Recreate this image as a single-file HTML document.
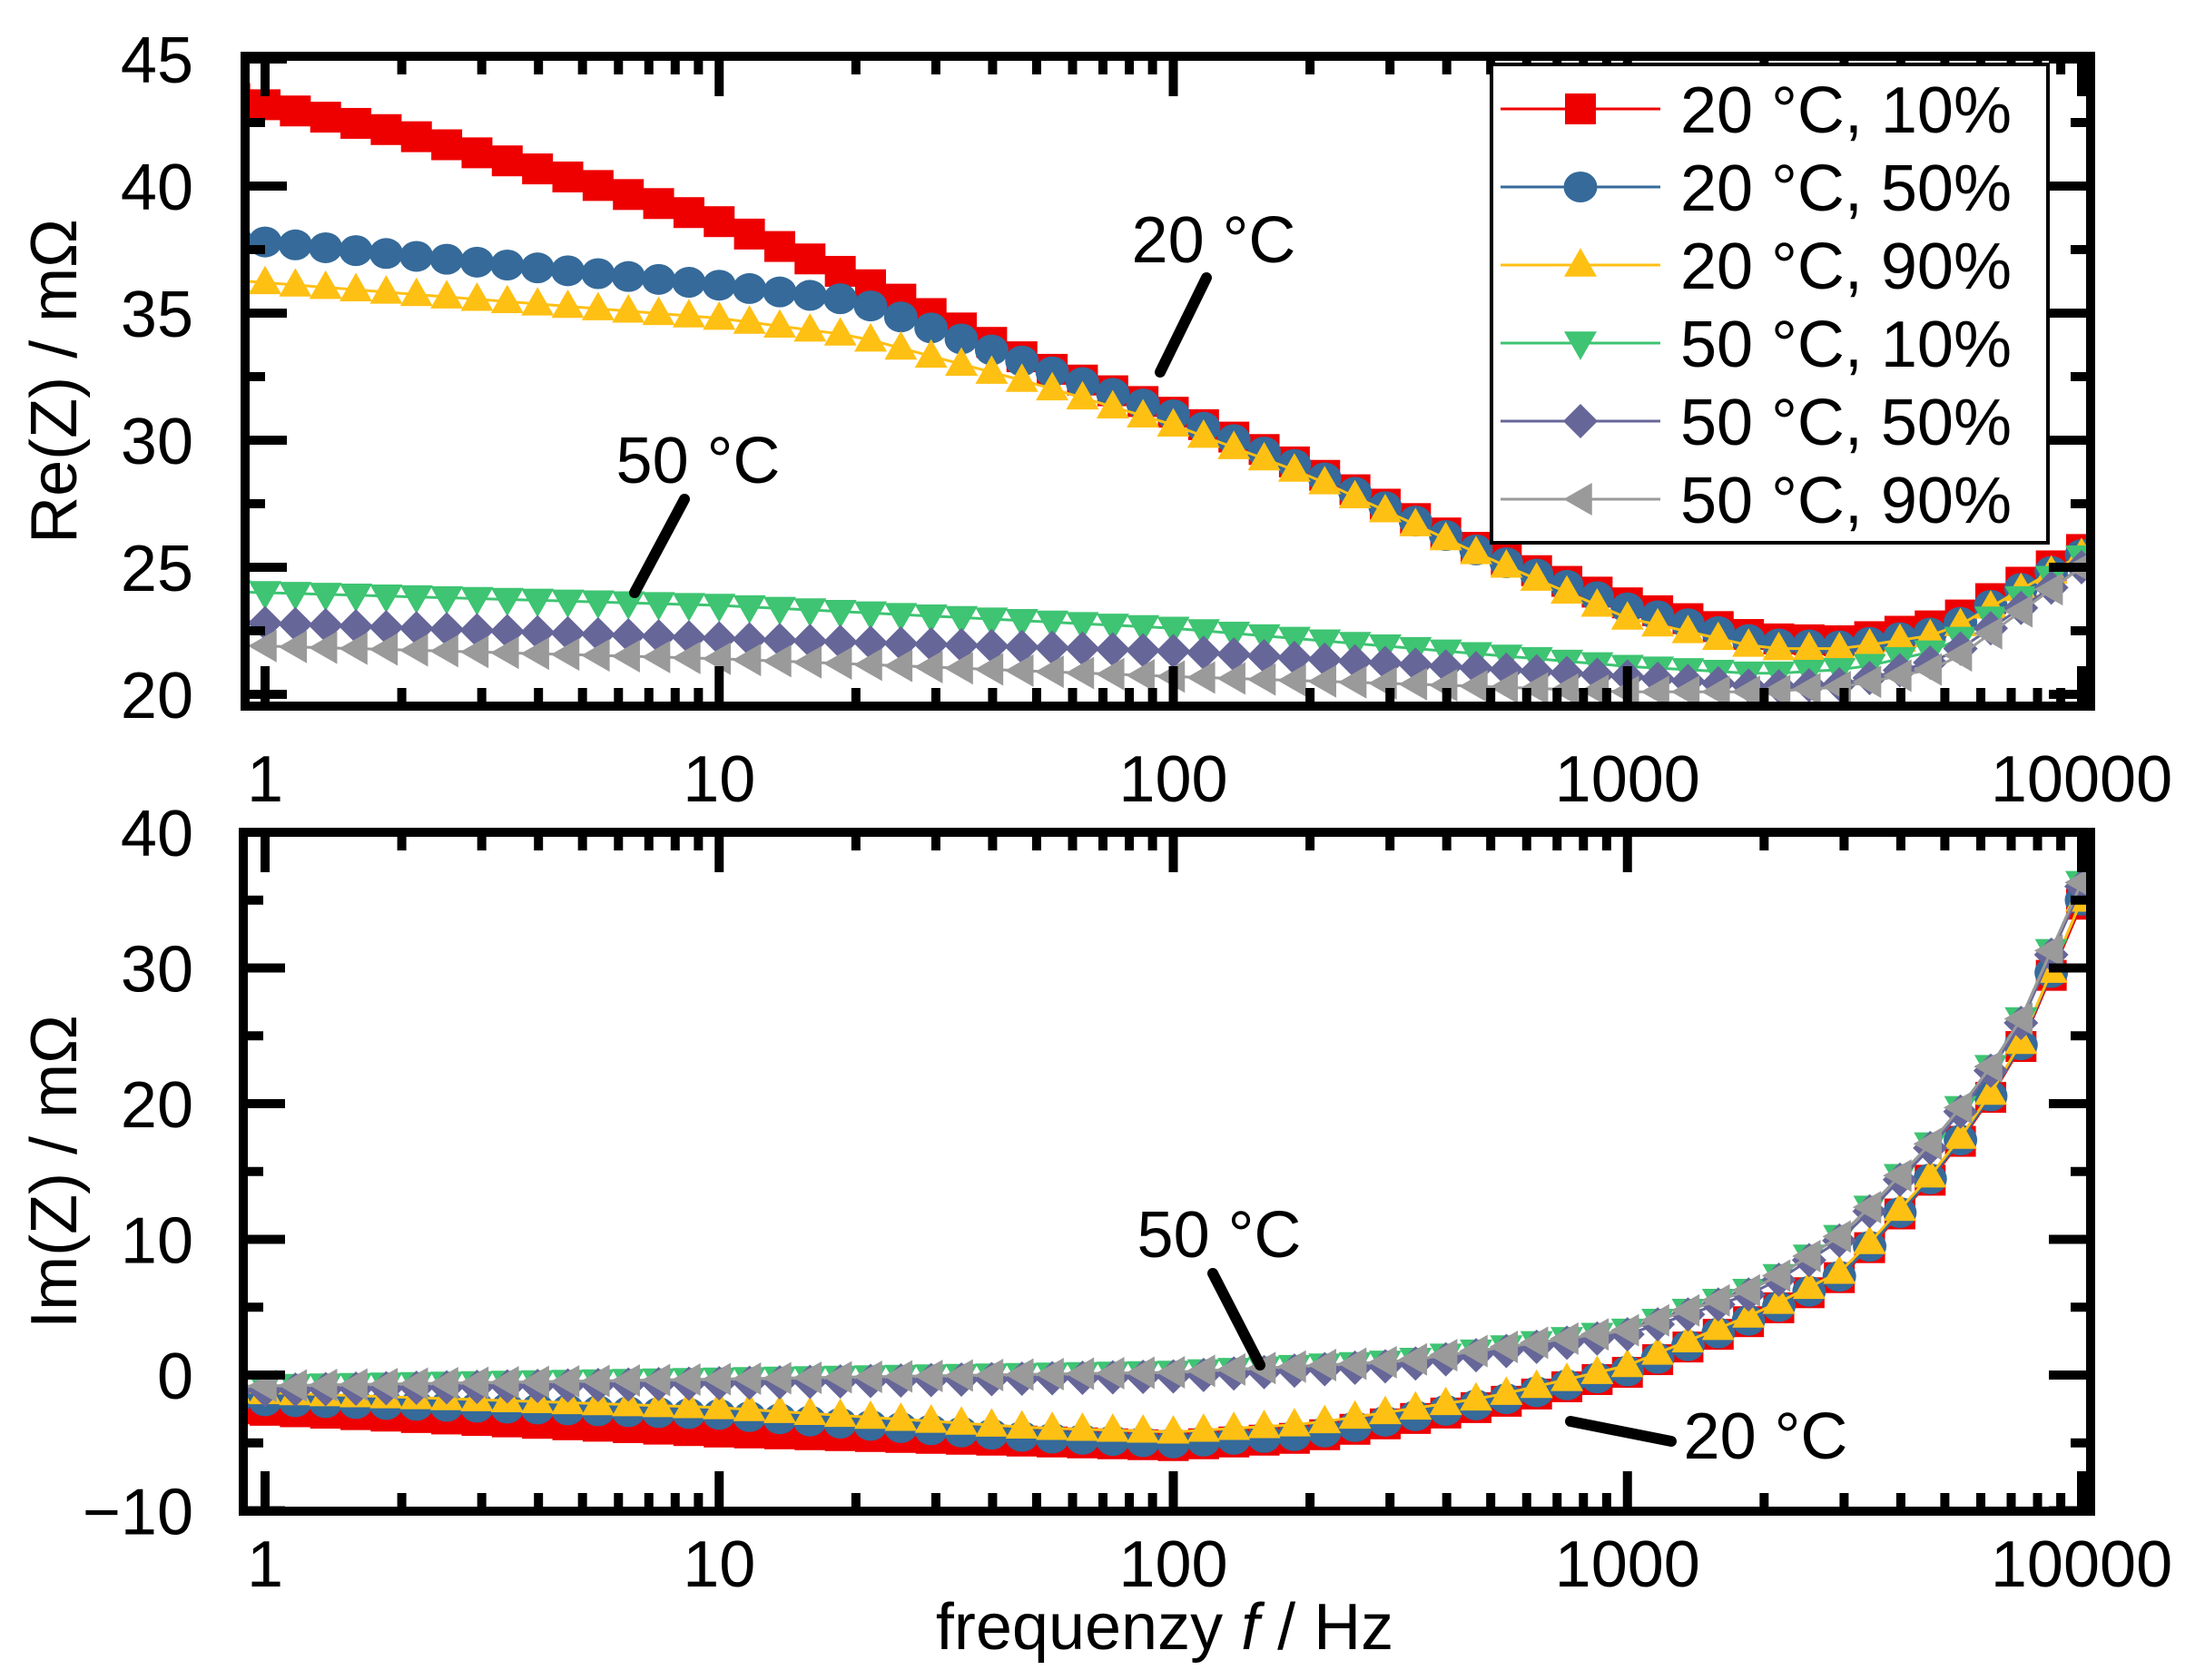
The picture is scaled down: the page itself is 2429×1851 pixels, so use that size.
<!DOCTYPE html>
<html><head><meta charset="utf-8">
<style>html,body{margin:0;padding:0;background:#fff;}svg{display:block;}
text{font-family:"Liberation Sans",Arial,sans-serif;fill:#000;}</style></head>
<body>
<svg id="s" xmlns="http://www.w3.org/2000/svg" width="2429" height="1851" viewBox="0 0 2429 1851">
<defs>
<clipPath id="c1"><rect x="270" y="62" width="2033" height="716"/></clipPath>
<clipPath id="c2"><rect x="268" y="917" width="2035" height="748"/></clipPath>
</defs>
<g id="g1" clip-path="url(#c1)"></g>
<g id="g2" clip-path="url(#c2)"></g>
<g id="ax"></g>
<text x="0" y="0" font-size="72" text-anchor="middle" transform="translate(84,420) rotate(-90)">Re(Z) / mΩ</text>
<text x="0" y="0" font-size="72" text-anchor="middle" transform="translate(84,1291) rotate(-90)">Im(Z) / mΩ</text>
<text x="1283" y="1817" font-size="72" text-anchor="middle">frequenzy <tspan font-style="italic">f</tspan> / Hz</text>
<text x="1337" y="289" font-size="72" text-anchor="middle">20 °C</text>
<line x1="1329" y1="306" x2="1278" y2="410" stroke="#000" stroke-width="12" stroke-linecap="round"/>
<text x="769" y="532" font-size="72" text-anchor="middle">50 °C</text>
<line x1="754" y1="550" x2="699" y2="653" stroke="#000" stroke-width="12" stroke-linecap="round"/>
<text x="1343" y="1385" font-size="72" text-anchor="middle">50 °C</text>
<line x1="1336" y1="1403" x2="1388" y2="1504" stroke="#000" stroke-width="12" stroke-linecap="round"/>
<text x="1945" y="1607" font-size="72" text-anchor="middle">20 °C</text>
<line x1="1730" y1="1566" x2="1841" y2="1588" stroke="#000" stroke-width="12" stroke-linecap="round"/>
<g id="leg"></g>
</svg>
<script>
(function(){
var NS="http://www.w3.org/2000/svg";
function el(p,t,a){var e=document.createElementNS(NS,t);for(var k in a)e.setAttribute(k,a[k]);p.appendChild(e);return e;}
var X0=292,DEC=500.25,MS=34;
function fx(l){return X0+l*DEC;}
function y1(v){return 765-(v-20)*28;}
function y2(v){return 1515-v*14.95;}
function interp(a,l){if(l<=a[0][0]){var s=(a[1][1]-a[0][1])/(a[1][0]-a[0][0]);return a[0][1]+(l-a[0][0])*s;}
for(var i=1;i<a.length;i++){if(l<=a[i][0]){var t=(l-a[i-1][0])/(a[i][0]-a[i-1][0]);return a[i-1][1]+t*(a[i][1]-a[i-1][1]);}}return a[a.length-1][1];}
var cols=["#EE0000","#356A9A","#FFC014","#3EC472","#666699","#9A9A9A"];
var dTop=[
[[0,43.2],[0.3,42.1],[0.7,40.2],[1,38.6],[1.3,36.4],[1.7,33],[2,31.1],[2.3,28.9],[2.7,25.5],[3,23.6],[3.3,22.2],[3.48,22.1],[3.7,22.8],[4,25.7]],
[[0,37.8],[1,36.1],[1.3,35.5],[1.7,32.9],[2,31],[2.3,28.8],[2.7,25.4],[3,23.4],[3.3,22],[3.48,21.9],[3.7,22.5],[4,25.5]],
[[0,36.2],[1,34.8],[1.3,34.1],[1.7,32.2],[2,30.6],[2.3,28.6],[2.7,25.3],[3,23.0],[3.3,21.8],[3.48,21.8],[3.7,22.4],[4,25.5]],
[[0,24.0],[1,23.5],[2,22.6],[3,21.1],[3.3,20.8],[3.5,21.0],[3.7,21.8],[4,25.4]],
[[0,22.8],[1,22.2],[2,21.7],[3,20.7],[3.3,20.3],[3.48,20.4],[3.7,21.4],[4,25]],
[[0,21.9],[1,21.4],[2,20.7],[2.7,20.3],[3,20.1],[3.3,20.1],[3.48,20.3],[3.7,21.1],[4,25]]];
var G=[[0,-0.8],[1,-0.3],[2,0.2],[2.5,1.0],[3,3.3],[3.3,6.6],[3.48,10.5],[3.7,18.2],[3.85,25],[4,36.3]];
var dBot=[
[[0,-2.6],[1,-4.2],[2,-5.2],[2.3,-4.6],[2.7,-2.2],[3,0.2],[3.3,4.4],[3.48,7.4],[3.7,15.6],[3.85,22.9],[4,34.7]],
[[0,-1.9],[1,-2.9],[1.7,-4.6],[2,-5.0],[2.3,-4.4],[2.7,-2.0],[3,0.3],[3.3,4.5],[3.48,7.5],[3.7,15.7],[3.85,23],[4,35]],
[[0,-1.3],[1,-2.4],[1.7,-3.9],[2,-4.2],[2.3,-3.6],[2.7,-1.6],[3,0.7],[3.3,4.8],[3.48,7.8],[3.7,15.9],[3.85,23.2],[4,35]],
G, G.map(function(p){return [p[0],p[1]-0.3];}), G];
function marker(g,i,x,y,s){var c=cols[i],h=s/2;
 if(i==0)el(g,"rect",{x:x-h,y:y-h,width:s,height:s,fill:c});
 else if(i==1)el(g,"ellipse",{cx:x,cy:y,rx:h+1.5,ry:h,fill:c});
 else if(i==2)el(g,"polygon",{points:(x-h-1)+","+(y+h*0.75)+" "+(x+h+1)+","+(y+h*0.75)+" "+x+","+(y-h*1.1),fill:c});
 else if(i==3)el(g,"polygon",{points:(x-h-1)+","+(y-h*0.75)+" "+(x+h+1)+","+(y-h*0.75)+" "+x+","+(y+h*1.1),fill:c});
 else if(i==4)el(g,"polygon",{points:(x-h-2)+","+y+" "+x+","+(y-h-2)+" "+(x+h+2)+","+y+" "+x+","+(y+h+2),fill:c});
 else el(g,"polygon",{points:(x-h*1.1)+","+y+" "+(x+h*0.75)+","+(y-h-1)+" "+(x+h*0.75)+","+(y+h+1),fill:c});}
function plot(gid,data,yf){var g=document.getElementById(gid);
 for(var i=0;i<6;i++){var pts=[];for(var k=-1;k<=60;k++){var l=k/15;pts.push([fx(l),yf(interp(data[i],l))]);}
  el(g,"polyline",{points:pts.map(function(p){return p[0].toFixed(1)+","+p[1].toFixed(1);}).join(" "),fill:"none",stroke:cols[i],"stroke-width":3});
  pts.forEach(function(p){marker(g,i,p[0],p[1],MS);});}}
plot("g1",dTop,y1);plot("g2",dBot,y2);
var ax=document.getElementById("ax");
function frame(L,T,R,B,yt,ymaj,ymin,labels){
 el(ax,"rect",{x:L,y:T,width:R-L,height:B-T,fill:"none",stroke:"#000","stroke-width":10});
 for(var d=0;d<4;d++)for(var m=1;m<10;m++){var x=fx(d+Math.log10(m));var len=m==1?44:20;
  el(ax,"line",{x1:x,y1:T,x2:x,y2:T+len,stroke:"#000","stroke-width":10});
  el(ax,"line",{x1:x,y1:B,x2:x,y2:B-len,stroke:"#000","stroke-width":10});}
 var x4=fx(4);el(ax,"line",{x1:x4,y1:T,x2:x4,y2:T+44,stroke:"#000","stroke-width":10});el(ax,"line",{x1:x4,y1:B,x2:x4,y2:B-44,stroke:"#000","stroke-width":10});
 ymaj.forEach(function(v){var y=yt(v);el(ax,"line",{x1:L,y1:y,x2:L+46,y2:y,stroke:"#000","stroke-width":10});el(ax,"line",{x1:R,y1:y,x2:R-46,y2:y,stroke:"#000","stroke-width":10});});
 ymin.forEach(function(v){var y=yt(v);el(ax,"line",{x1:L,y1:y,x2:L+22,y2:y,stroke:"#000","stroke-width":10});el(ax,"line",{x1:R,y1:y,x2:R-22,y2:y,stroke:"#000","stroke-width":10});});
 ymaj.forEach(function(v,i){var t=el(ax,"text",{x:213,y:yt(v)+26,"font-size":72,"text-anchor":"end"});t.textContent=labels[i];});
}
frame(270,62,2303,778,y1,[20,25,30,35,40,45],[22.5,27.5,32.5,37.5,42.5],["20","25","30","35","40","45"]);
frame(268,917,2303,1665,y2,[-10,0,10,20,30,40],[-5,5,15,25,35],["\u221210","0","10","20","30","40"]);
["1","10","100","1000","10000"].forEach(function(s,i){
 var t=el(ax,"text",{x:fx(i),y:883,"font-size":72,"text-anchor":"middle"});t.textContent=s;
 t=el(ax,"text",{x:fx(i),y:1748,"font-size":72,"text-anchor":"middle"});t.textContent=s;});
var lg=document.getElementById("leg");
el(lg,"rect",{x:1643,y:71,width:613,height:527,fill:"#fff",stroke:"#000","stroke-width":4});
var names=["20 °C, 10%","20 °C, 50%","20 °C, 90%","50 °C, 10%","50 °C, 50%","50 °C, 90%"];
for(var i=0;i<6;i++){var y=120+i*86;
 el(lg,"line",{x1:1653,y1:y,x2:1829,y2:y,stroke:cols[i],"stroke-width":3});
 marker(lg,i,1741,y,34);
 var t=el(lg,"text",{x:1851,y:y+26,"font-size":72});t.textContent=names[i];}
})();
</script>
</body></html>
